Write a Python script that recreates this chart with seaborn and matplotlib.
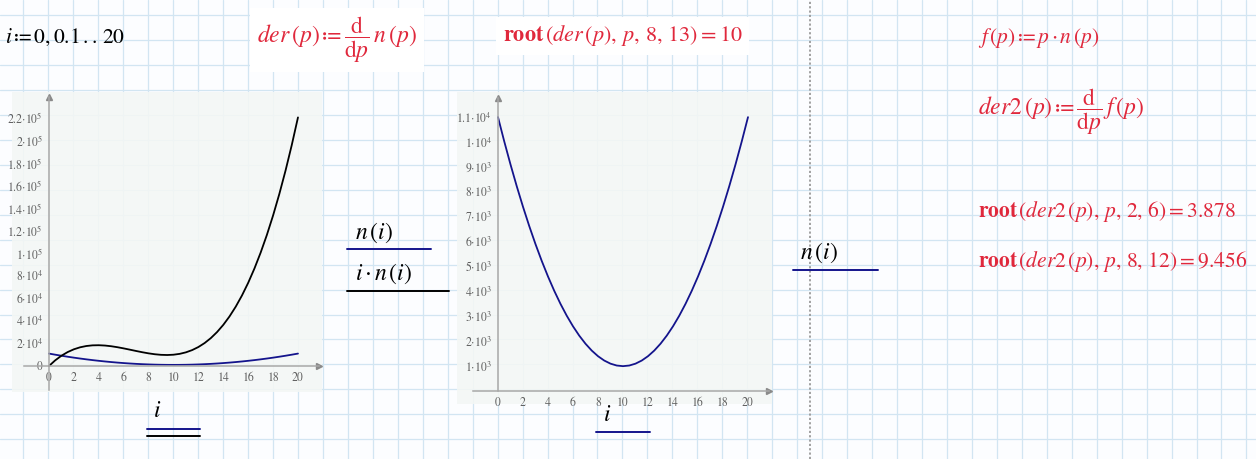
import numpy as np
import matplotlib
matplotlib.use('Agg')
import matplotlib.pyplot as plt
import seaborn as sns

# worksheet values, i = 0, 0.5 .. 20
i_vals = [0, 0.5, 1, 1.5, 2, 2.5, 3, 3.5, 4, 4.5, 5, 5.5, 6, 6.5, 7, 7.5, 8, 8.5, 9, 9.5,
          10, 10.5, 11, 11.5, 12, 12.5, 13, 13.5, 14, 14.5, 15, 15.5, 16, 16.5, 17, 17.5,
          18, 18.5, 19, 19.5, 20]
n_vals = [11000, 10025, 9100, 8225, 7400, 6625, 5900, 5225, 4600, 4025, 3500, 3025, 2600,
          2225, 1900, 1625, 1400, 1225, 1100, 1025, 1000, 1025, 1100, 1225, 1400, 1625,
          1900, 2225, 2600, 3025, 3500, 4025, 4600, 5225, 5900, 6625, 7400, 8225, 9100,
          10025, 11000]
in_vals = [0, 5012, 9100, 12338, 14800, 16562, 17700, 18288, 18400, 18112, 17500, 16638,
           15600, 14462, 13300, 12188, 11200, 10412, 9900, 9738, 10000, 10762, 12100, 14088,
           16800, 20312, 24700, 30038, 36400, 43862, 52500, 62388, 73600, 86212, 100300,
           115938, 133200, 152162, 172900, 195488, 220000]

x_ticks = [-2, 0, 2, 4, 6, 8, 10, 12, 14, 16, 18, 20]
x_labels = ['', '0', '2', '4', '6', '8', '10', '12', '14', '16', '18', '20']
y1_ticks = [-20000, 0, 20000, 40000, 60000, 80000, 100000, 120000, 140000, 160000,
            180000, 200000, 220000]
y1_labels = ['', '0', r'$2{\cdot}10^4$', r'$4{\cdot}10^4$', r'$6{\cdot}10^4$',
             r'$8{\cdot}10^4$', r'$1{\cdot}10^5$', r'$1.2{\cdot}10^5$', r'$1.4{\cdot}10^5$',
             r'$1.6{\cdot}10^5$', r'$1.8{\cdot}10^5$', r'$2{\cdot}10^5$', r'$2.2{\cdot}10^5$']
y2_ticks = [1000, 2000, 3000, 4000, 5000, 6000, 7000, 8000, 9000, 10000, 11000]
y2_labels = [r'$1{\cdot}10^3$', r'$2{\cdot}10^3$', r'$3{\cdot}10^3$', r'$4{\cdot}10^3$',
             r'$5{\cdot}10^3$', r'$6{\cdot}10^3$', r'$7{\cdot}10^3$', r'$8{\cdot}10^3$',
             r'$9{\cdot}10^3$', r'$1{\cdot}10^4$', r'$1.1{\cdot}10^4$']

NAVY = '#14148c'
RED = '#e0283c'
W, H = 1256, 459

sns.set_theme(style='white')
plt.rcParams['font.family'] = ['STIXGeneral', 'DejaVu Serif']
plt.rcParams['mathtext.fontset'] = 'stix'

fig = plt.figure(figsize=(W / 100, H / 100), dpi=100)

# grid paper background, in pixel units
bg = fig.add_axes([0, 0, 1, 1], zorder=-5)
bg.set_xlim(0, W)
bg.set_ylim(H, 0)
bg.set_facecolor('#fcfdff')
bg.set_xticks(np.arange(23.4, W, 24.96))
bg.set_yticks(np.arange(15, H, 24.96))
bg.grid(True, color='#d2e5f2', lw=0.9)
bg.tick_params(length=0, labelbottom=False, labelleft=False)
for s in bg.spines.values():
    s.set_visible(False)
bg.axvline(810, color='#9a9a9a', lw=1.3, ls=(0, (1.2, 1.2)))

# overlay for worksheet text, same pixel units
top = fig.add_axes([0, 0, 1, 1], zorder=10)
top.set_xlim(0, W)
top.set_ylim(H, 0)
top.axis('off')


def rect(x0, y0, x1, y1):
    return [x0 / W, 1 - y1 / H, (x1 - x0) / W, (y1 - y0) / H]


def style_axes(ax, ybounds, xbounds):
    ax.set_facecolor((0.955, 0.968, 0.962, 0.88))
    for s in ['top', 'right']:
        ax.spines[s].set_visible(False)
    ax.spines['left'].set_position(('data', 0))
    ax.spines['bottom'].set_position(('data', 0))
    ax.spines['left'].set_bounds(*ybounds)
    ax.spines['bottom'].set_bounds(*xbounds)
    for s in ['left', 'bottom']:
        ax.spines[s].set_color('#a8a8a8')
        ax.spines[s].set_linewidth(1.1)
    ax.plot(xbounds[1], 0, '>', color='#8a8a8a', ms=5, clip_on=False)
    ax.plot(0, ybounds[1], '^', color='#8a8a8a', ms=5, clip_on=False)
    ax.tick_params(axis='both', direction='inout', length=5, width=0.9, color='#9a9a9a',
                   labelcolor='#606060', labelsize=8.5, pad=2)
    ax.grid(False)


# left plot: n(i) and i*n(i)
ax1 = fig.add_axes(rect(12, 92, 322, 392))
sns.lineplot(x=i_vals, y=n_vals, ax=ax1, color=NAVY, lw=1.3)
sns.lineplot(x=i_vals, y=in_vals, ax=ax1, color='black', lw=1.3)
ax1.set_xlim(-2.97, 21.93)
ax1.set_ylim(-23000, 242500)
style_axes(ax1, (-21200, 238000), (-2, 21.7))
ax1.set_xticks(x_ticks, x_labels)
ax1.set_yticks(y1_ticks, y1_labels)

# right plot: n(i)
ax2 = fig.add_axes(rect(457, 92, 772, 404))
sns.lineplot(x=i_vals, y=n_vals, ax=ax2, color=NAVY, lw=1.3)
ax2.set_xlim(-3.28, 21.92)
ax2.set_ylim(-520, 12010)
style_axes(ax2, (0, 11750), (-2, 21.7))
ax2.set_xticks(x_ticks, x_labels)
ax2.set_yticks(y2_ticks, y2_labels)

# axis labels with their line keys
lab = dict(fontsize=17, va='center', color='black')
top.text(157, 411, r'$i$', ha='center', **lab)
top.plot([147, 200], [429, 429], color=NAVY, lw=1.4)
top.plot([147, 200], [436, 436], color='black', lw=1.4)
top.text(355, 233, r'$n\,(i)$', ha='left', **lab)
top.plot([347, 431], [249, 249], color=NAVY, lw=1.4)
top.text(355, 274, r'$i\,{\cdot}\,n\,(i)$', ha='left', **lab)
top.plot([347, 449], [291, 291], color='black', lw=1.4)
top.text(607, 415, r'$i$', ha='center', **lab)
top.plot([596, 650], [432, 432], color=NAVY, lw=1.4)
top.text(800, 253, r'$n\,(i)$', ha='left', **lab)
top.plot([793, 878], [270, 270], color=NAVY, lw=1.4)

# worksheet expressions
box = dict(boxstyle='square,pad=0.3', fc='white', ec='none')
top.text(5, 37, r'$i\,≔\,0,0.1\,..\,20$', fontsize=15.5, va='center', color='black')
top.text(257, 40, r'$der\,(p)\,≔\,\dfrac{\mathrm{d}}{\mathrm{d}p}\,n\,(p)$', fontsize=17,
         va='center', color=RED, bbox=box)
top.text(503, 36, r'$\mathbf{root}\,(der\,(p),\,p,\,8,\,13)=10$', fontsize=16,
         va='center', color=RED, bbox=box)
top.text(978, 38, r'$f\,(p)\,≔\,p\,{\cdot}\,n\,(p)$', fontsize=15.5, va='center', color=RED)
top.text(978, 112, r'$der2\,(p)\,≔\,\dfrac{\mathrm{d}}{\mathrm{d}p}\,f\,(p)$', fontsize=17,
         va='center', color=RED)
top.text(978, 211, r'$\mathbf{root}\,(der2\,(p),\,p,\,2,\,6)=3.878$', fontsize=15.5,
         va='center', color=RED)
top.text(978, 261, r'$\mathbf{root}\,(der2\,(p),\,p,\,8,\,12)=9.456$', fontsize=15.5,
         va='center', color=RED)

fig.savefig('out.png', dpi=100)
